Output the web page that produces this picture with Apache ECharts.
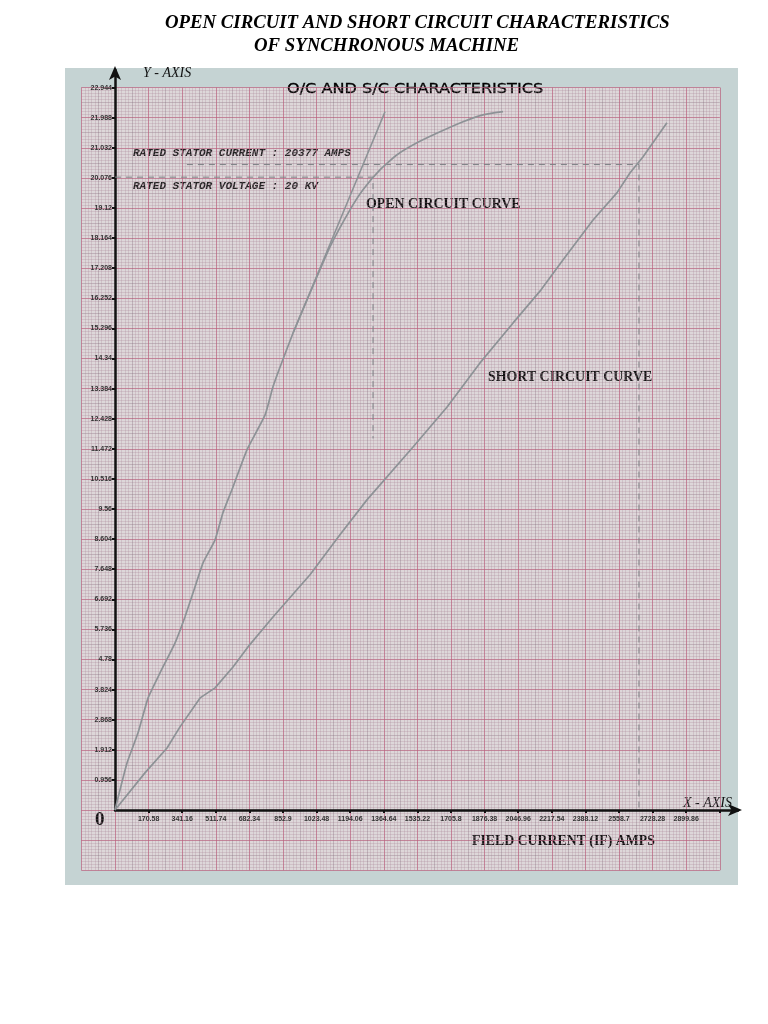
<!DOCTYPE html>
<html>
<head>
<meta charset="utf-8">
<script src="https://cdn.jsdelivr.net/npm/echarts@6/dist/echarts.min.js"></script>
<style>
html,body{margin:0;padding:0;background:#fff;}
#photo{position:absolute;left:65px;top:68px;width:673px;height:817px;background:#c5d3d3;}
#main{position:absolute;left:0;top:0;width:768px;height:1024px;}
</style>
</head>
<body>
<div id="photo"></div>
<div id="main"></div>
<script>
// ---- data ----
const xTickLabels = ['170.58','341.16','511.74','682.34','852.9','1023.48','1194.06','1364.64','1535.22','1705.8','1876.38','2046.96','2217.54','2388.12','2558.7','2728.28','2899.86'];
const yTickLabels = ['0.956','1.912','2.868','3.824','4.78','5.736','6.692','7.648','8.604','9.56','10.516','11.472','12.428','13.384','14.34','15.296','16.252','17.208','18.164','19.12','20.076','21.032','21.988','22.944'];

// open circuit curve: field current (A) vs stator voltage (kV)
const ocIf = [0, 61, 117, 168, 228, 305, 355, 406, 447, 508, 548, 599, 670, 762, 802, 838, 904, 975, 1092, 1193, 1259, 1345, 1432, 1533, 1650, 1767, 1868, 1970];
const ocV  = [0, 1.49, 2.45, 3.56, 4.35, 5.31, 6.13, 7.08, 7.85, 8.58, 9.44, 10.26, 11.44, 12.55, 13.44, 14.07, 15.15, 16.20, 17.89, 19.06, 19.70, 20.33, 20.81, 21.19, 21.54, 21.86, 22.08, 22.18];

// air gap line (tangent to linear part of O/C curve)
const agIf = [904, 1371];
const agV  = [15.15, 22.18];

// short circuit curve: field current (A) vs stator current (kA)
const scIf = [0, 152, 264, 330, 432, 508, 599, 675, 802, 990, 1142, 1279, 1513, 1686, 1853, 2021, 2163, 2274, 2427, 2548, 2615, 2681, 2802];
const scI  = [0, 1.18, 1.97, 2.64, 3.56, 3.88, 4.54, 5.18, 6.13, 7.47, 8.74, 9.85, 11.53, 12.80, 14.20, 15.47, 16.52, 17.47, 18.74, 19.60, 20.24, 20.75, 21.83];

// rated values (dashed construction lines)
const ratedCurrentLineIf = [365, 2660, 2660];
const ratedCurrentLineY  = [20.5, 20.5, 0];
const ratedVoltageLineIf = [0, 1310, 1310];
const ratedVoltageLineY  = [20.1, 20.1, 11.8];

// ---- layout constants ----
const CMX = 170.58, CMY = 0.956;
const PXX = 33.6, PXY = 30.1;      // pixels per cm on the paper
const OX = 115, OY = 810;          // origin in pixels
const W = 768, H = 1024;
const axisEndX = 738, axisEndY = 70;

const pair = (xs, ys) => xs.map((x, i) => [x, ys[i]]);

const chart = echarts.init(document.getElementById('main'), null, {renderer: 'canvas'});

const paperLeft = OX - PXX, paperRight = OX + 18 * PXX;
const paperTop = OY - 24 * PXY, paperBottom = OY + 2 * PXY;

const minorLine = {show: true, lineStyle: {color: 'rgba(165,125,145,0.42)', width: 0.6}};
const halfLine = {show: true, lineStyle: {color: 'rgba(125,100,115,0.40)', width: 0.8}};
const cmLine = {show: true, lineStyle: {color: 'rgba(200,95,128,0.55)', width: 1}};
const hiddenAxis = {axisLine: {show: false}, axisTick: {show: false}, axisLabel: {show: false}};

const pencil = '#8d9296';

chart.setOption({
  animation: false,
  backgroundColor: 'transparent',
  grid: [
    {left: paperLeft, right: W - paperRight, top: paperTop, bottom: H - paperBottom,
     show: true, backgroundColor: '#ddd7d9', borderWidth: 0},
    {left: OX, right: W - axisEndX, top: axisEndY, bottom: H - OY, show: false}
  ],
  xAxis: [
    Object.assign({type: 'value', gridIndex: 0, position: 'bottom', min: -CMX, max: 18 * CMX, interval: CMX / 2,
      splitLine: halfLine, minorTick: {show: false, splitNumber: 5}, minorSplitLine: minorLine}, hiddenAxis),
    Object.assign({type: 'value', gridIndex: 0, position: 'top', min: -CMX, max: 18 * CMX, interval: CMX,
      splitLine: cmLine}, hiddenAxis),
    {type: 'value', gridIndex: 1, position: 'bottom', min: 0, max: (axisEndX - OX) / PXX * CMX, interval: CMX,
      splitLine: {show: false},
      axisLine: {show: true, onZero: false, symbol: ['none', 'arrow'], symbolSize: [9, 14], symbolOffset: [0, 4],
        lineStyle: {color: '#111', width: 2.5}},
      axisTick: {show: true, length: 3, lineStyle: {color: '#111', width: 2}},
      axisLabel: {show: true, margin: 6, fontSize: 7, fontWeight: 'bold', color: '#333', fontFamily: 'Liberation Sans',
        showMaxLabel: false, showMinLabel: false,
        formatter: v => { const i = Math.round(v / CMX); return (i >= 1 && i <= xTickLabels.length) ? xTickLabels[i - 1] : ''; }}}
  ],
  yAxis: [
    Object.assign({type: 'value', gridIndex: 0, position: 'left', min: -2 * CMY, max: 24 * CMY, interval: CMY / 2,
      splitLine: halfLine, minorTick: {show: false, splitNumber: 5}, minorSplitLine: minorLine}, hiddenAxis),
    Object.assign({type: 'value', gridIndex: 0, position: 'right', min: -2 * CMY, max: 24 * CMY, interval: CMY,
      splitLine: cmLine}, hiddenAxis),
    {type: 'value', gridIndex: 1, position: 'left', min: 0, max: (OY - axisEndY) / PXY * CMY, interval: CMY,
      splitLine: {show: false},
      axisLine: {show: true, onZero: false, symbol: ['none', 'arrow'], symbolSize: [9, 14], symbolOffset: [0, 4],
        lineStyle: {color: '#111', width: 2.5}},
      axisTick: {show: true, length: 3, lineStyle: {color: '#111', width: 2}},
      axisLabel: {show: true, margin: 3, fontSize: 7, fontWeight: 'bold', color: '#333', fontFamily: 'Liberation Sans',
        showMaxLabel: false, showMinLabel: false,
        formatter: v => { const i = Math.round(v / CMY); return (i >= 1 && i <= yTickLabels.length) ? yTickLabels[i - 1] : ''; }}}
  ],
  series: [
    {name: 'Open circuit curve', type: 'line', xAxisIndex: 2, yAxisIndex: 2, data: pair(ocIf, ocV),
      showSymbol: false, smooth: 0.15, lineStyle: {color: pencil, width: 1.7}, z: 5},
    {name: 'Air gap line', type: 'line', xAxisIndex: 2, yAxisIndex: 2, data: pair(agIf, agV),
      showSymbol: false, lineStyle: {color: pencil, width: 1.5}, z: 5},
    {name: 'Short circuit curve', type: 'line', xAxisIndex: 2, yAxisIndex: 2, data: pair(scIf, scI),
      showSymbol: false, lineStyle: {color: pencil, width: 1.7}, z: 5},
    {name: 'Rated current', type: 'line', xAxisIndex: 2, yAxisIndex: 2, data: pair(ratedCurrentLineIf, ratedCurrentLineY),
      showSymbol: false, lineStyle: {color: '#7d8185', width: 1, type: [6, 5]}, z: 4},
    {name: 'Rated voltage', type: 'line', xAxisIndex: 2, yAxisIndex: 2, data: pair(ratedVoltageLineIf, ratedVoltageLineY),
      showSymbol: false, lineStyle: {color: '#7d8185', width: 1, type: [6, 5]}, z: 4}
  ],
  graphic: [
    {type: 'text', left: 165, top: 14, style: {text: 'OPEN CIRCUIT AND SHORT CIRCUIT CHARACTERISTICS', font: 'italic bold 18.8px "Liberation Serif"', fill: '#000'}},
    {type: 'text', left: 254, top: 37, style: {text: 'OF SYNCHRONOUS MACHINE', font: 'italic bold 18.8px "Liberation Serif"', fill: '#000'}},
    {type: 'text', left: 143, top: 66, style: {text: 'Y - AXIS', font: 'italic 14px "Liberation Serif"', fill: '#111'}},
    {type: 'text', x: 287, y: 82, scaleX: 1.15, style: {text: 'O/C AND S/C CHARACTERISTICS', font: '500 14px "DejaVu Sans"', fill: '#000', stroke: '#000', lineWidth: 0.3}},
    {type: 'text', left: 133, top: 148, style: {text: 'RATED STATOR CURRENT : 20377 AMPS', font: 'italic bold 11px "Liberation Mono"', fill: '#222'}},
    {type: 'text', left: 133, top: 181, style: {text: 'RATED STATOR VOLTAGE : 20 KV', font: 'italic bold 11px "Liberation Mono"', fill: '#222'}},
    {type: 'text', left: 366, top: 197, style: {text: 'OPEN CIRCUIT CURVE', font: 'bold 13.9px "Liberation Serif"', fill: '#111'}},
    {type: 'text', left: 488, top: 370, style: {text: 'SHORT CIRCUIT CURVE', font: 'bold 13.9px "Liberation Serif"', fill: '#111'}},
    {type: 'text', left: 683, top: 796, style: {text: 'X - AXIS', font: 'italic 14px "Liberation Serif"', fill: '#111'}},
    {type: 'text', left: 95, top: 811, style: {text: '0', font: 'bold 19px "Liberation Serif"', fill: '#111'}},
    {type: 'text', left: 472, top: 834, style: {text: 'FIELD CURRENT (IF) AMPS', font: 'bold 13.8px "Liberation Serif"', fill: '#111'}}
  ]
});
</script>
</body>
</html>
